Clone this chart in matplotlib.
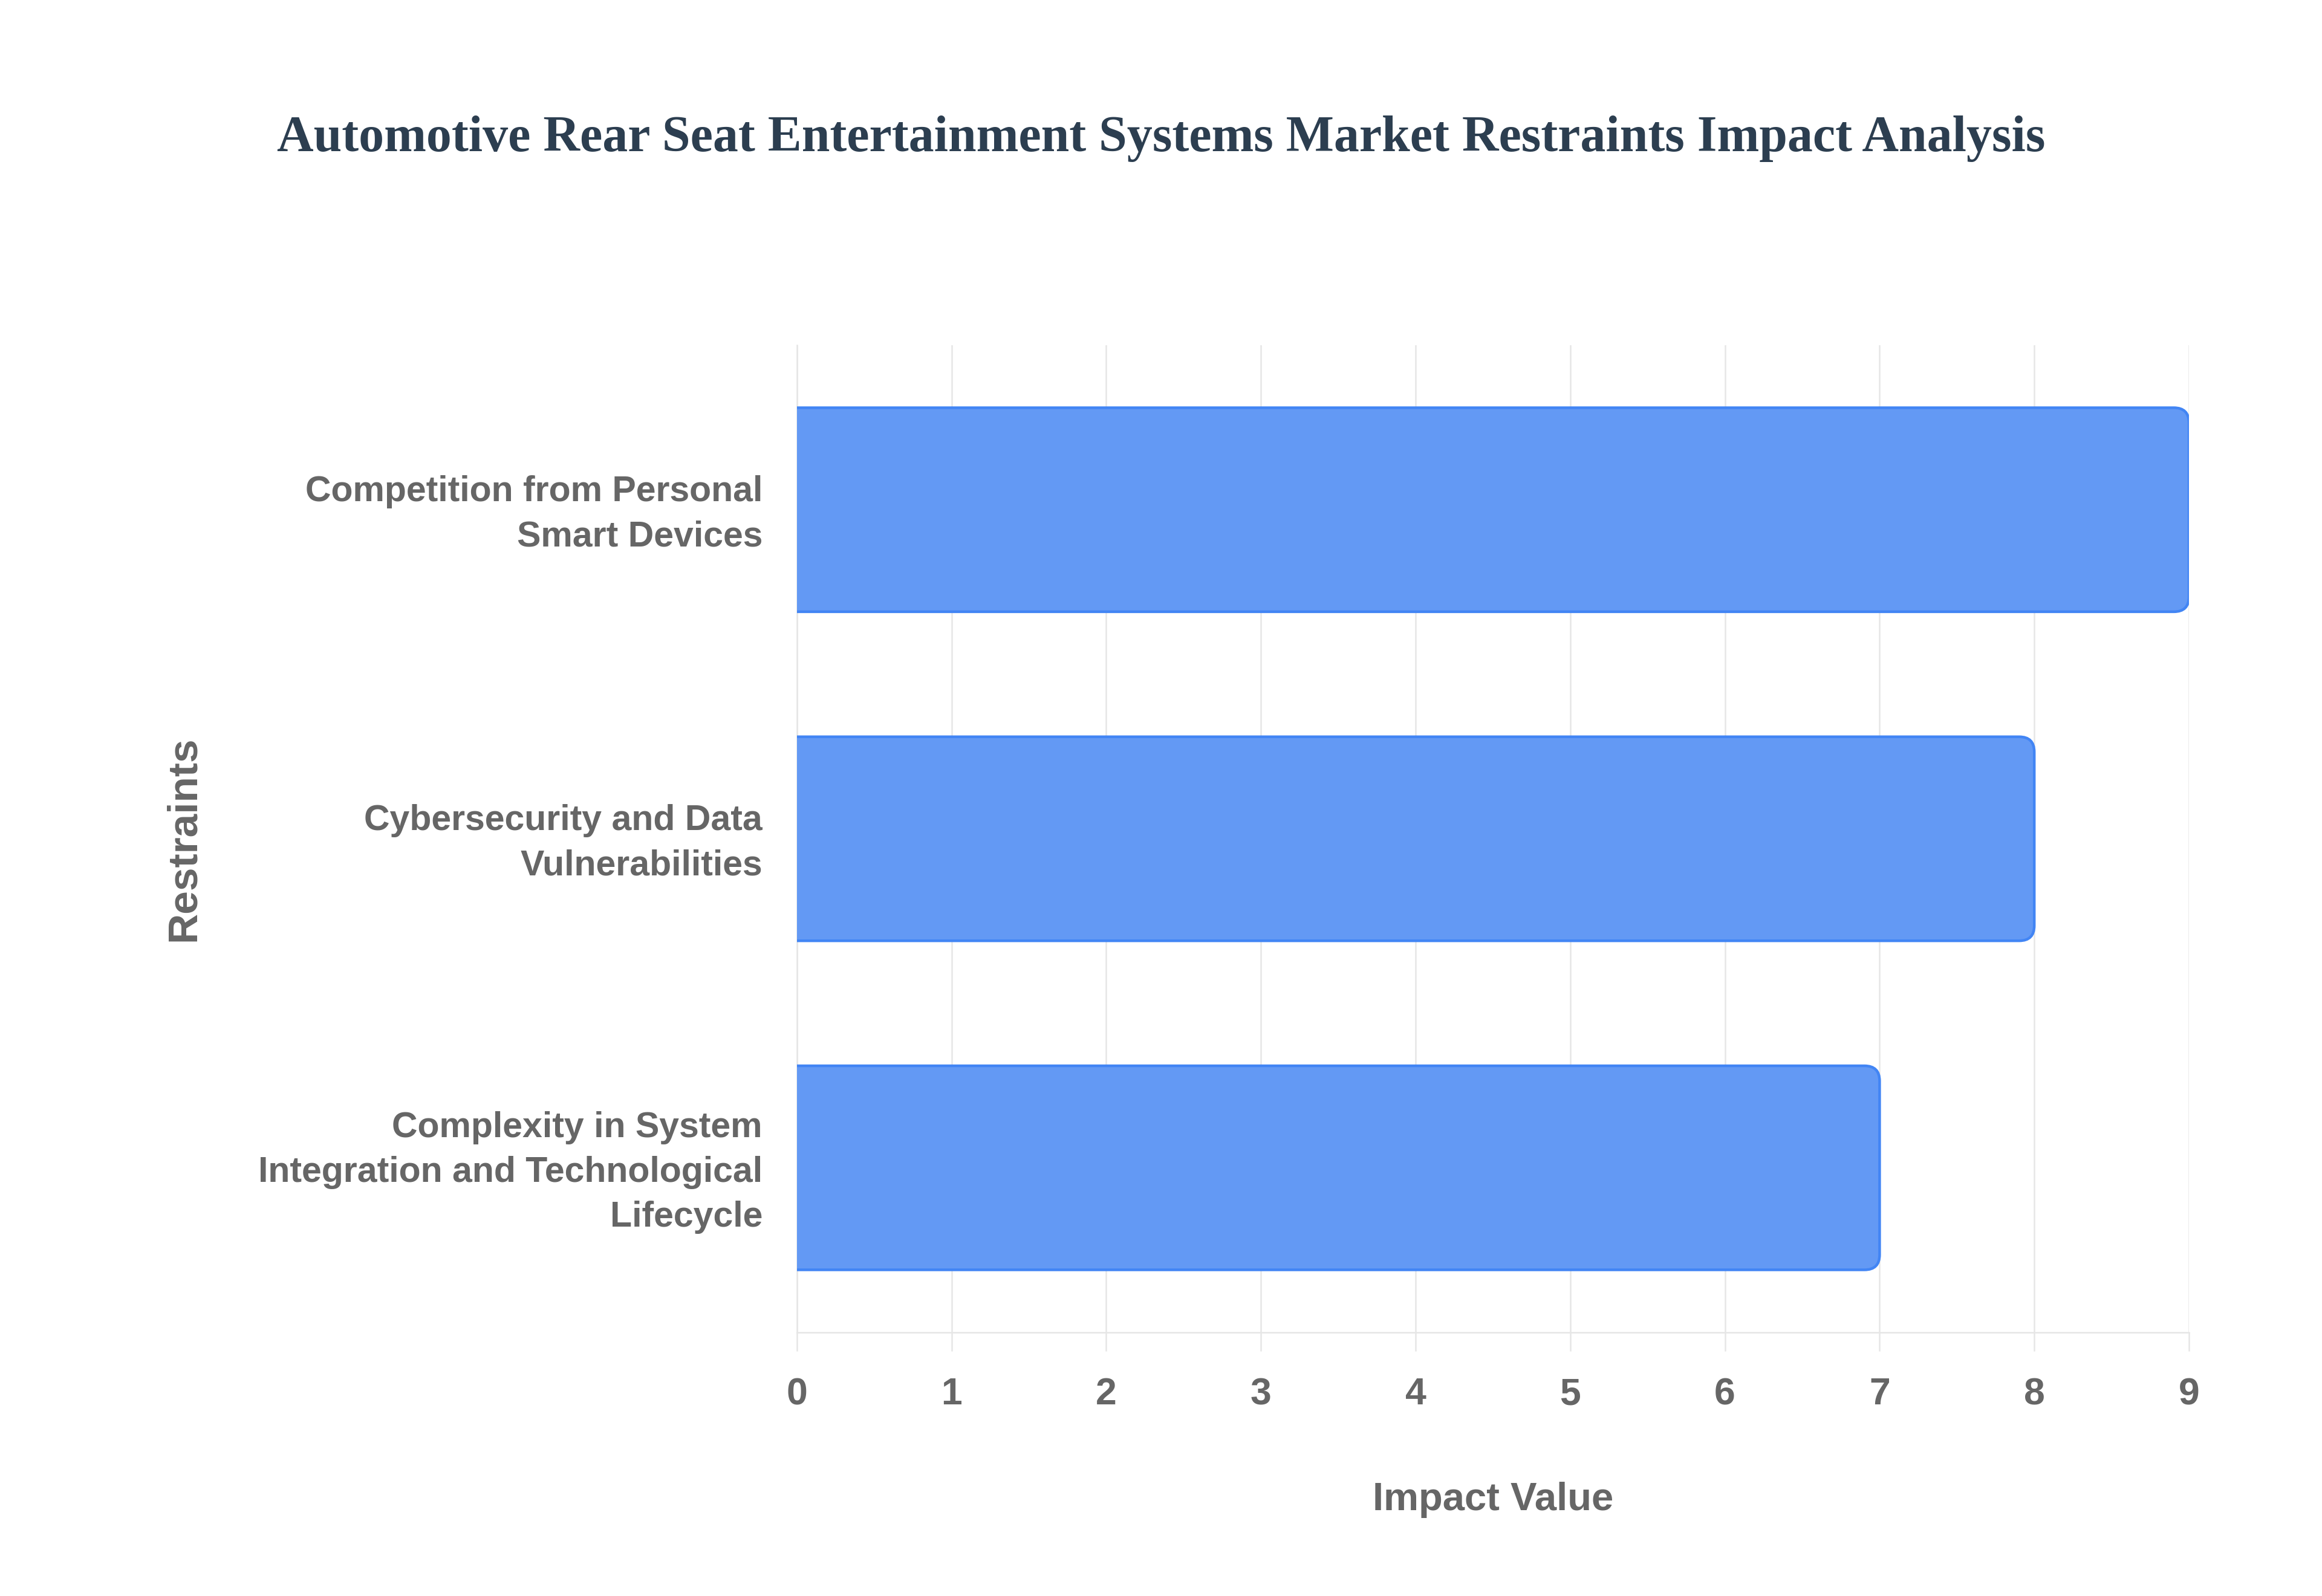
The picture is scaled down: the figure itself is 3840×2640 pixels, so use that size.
import matplotlib
matplotlib.use("Agg")
import matplotlib.pyplot as plt
import matplotlib.transforms as mtransforms
from matplotlib.path import Path
from matplotlib.patches import PathPatch
import numpy as np

# data
restraints = [
    "Competition from Personal\nSmart Devices",
    "Cybersecurity and Data\nVulnerabilities",
    "Complexity in System\nIntegration and Technological\nLifecycle",
]
impact = [9, 8, 7]
x_ticks = list(range(0, 10))

title = "Automotive Rear Seat Entertainment Systems Market Restraints Impact Analysis"
sans = ["Liberation Sans", "DejaVu Sans"]
label_color = "#666666"
grid_color = "#e6e6e6"
fill_color = "#6399f4"
edge_color = "#4285f4"

fig = plt.figure(figsize=(38.4, 26.4), dpi=100)
ax = fig.add_axes([0.3432, 0.1652, 0.5995, 0.6185])

y = np.arange(len(restraints))
bar_h = 0.62
ax.set_xlim(0, 9)
ax.set_ylim(len(restraints) - 0.5, -0.5)

# invisible bars first so the library does the scaling, then rounded versions on top
bars = ax.barh(y, impact, height=bar_h, color="none", edgecolor="none")

fig.canvas.draw()
inv = ax.transData.inverted()
p0 = inv.transform((0, 0))
p1 = inv.transform((25, 25))
rx = abs(p1[0] - p0[0])
ry = abs(p1[1] - p0[1])

for b in bars:
    x0 = b.get_x()
    x1 = x0 + b.get_width()
    y0 = b.get_y()
    y1 = y0 + b.get_height()
    verts = [
        (x0, y0), (x1 - rx, y0), (x1, y0), (x1, y0 + ry),
        (x1, y1 - ry), (x1, y1), (x1 - rx, y1), (x0, y1), (x0, y0),
    ]
    codes = [Path.MOVETO, Path.LINETO, Path.CURVE3, Path.CURVE3,
             Path.LINETO, Path.CURVE3, Path.CURVE3, Path.LINETO, Path.CLOSEPOLY]
    ax.add_patch(PathPatch(Path(verts, codes), facecolor=fill_color,
                           edgecolor="none", zorder=3))
    # border without the left side
    ax.add_patch(PathPatch(Path(verts[:-1], codes[:-1]), facecolor="none",
                           edgecolor=edge_color, linewidth=3.2, zorder=4))

ax.set_xticks(x_ticks)
ax.set_yticks(y)
ax.set_yticklabels(restraints, linespacing=1.45)
ax.grid(axis="x", color=grid_color, linewidth=1.8, zorder=0)
ax.set_axisbelow(True)

for s in ["top", "right"]:
    ax.spines[s].set_visible(False)
for s in ["left", "bottom"]:
    ax.spines[s].set_color(grid_color)
    ax.spines[s].set_linewidth(1.8)

ax.tick_params(axis="x", length=22, width=1.8, color=grid_color, pad=31,
               labelsize=45, labelcolor=label_color)
ax.tick_params(axis="y", length=0, pad=41, labelsize=42.5, labelcolor=label_color)
for lab in ax.get_xticklabels() + ax.get_yticklabels():
    lab.set_family(sans)
    lab.set_fontweight("bold")

# nudge category labels up a little
up = mtransforms.ScaledTranslation(0, 0.08, fig.dpi_scale_trans)
for lab in ax.get_yticklabels():
    lab.set_transform(lab.get_transform() + up)

ax.set_xlabel("Impact Value", family=sans, fontweight="bold", fontsize=47,
              color=label_color, va="center")
ax.set_ylabel("Restraints", family=sans, fontweight="bold", fontsize=50,
              color=label_color, va="center")
ax.xaxis.set_label_coords(0.5, -0.1696)
ax.yaxis.set_label_coords(-0.4405, 0.5)

fig.text(0.5, 1 - 230 / 2640, title, ha="center", va="center",
         family=["Liberation Serif", "DejaVu Serif"], fontweight="bold",
         fontsize=60.4, color="#2c3e50")

fig.savefig("out.png", dpi=100, facecolor="white")
